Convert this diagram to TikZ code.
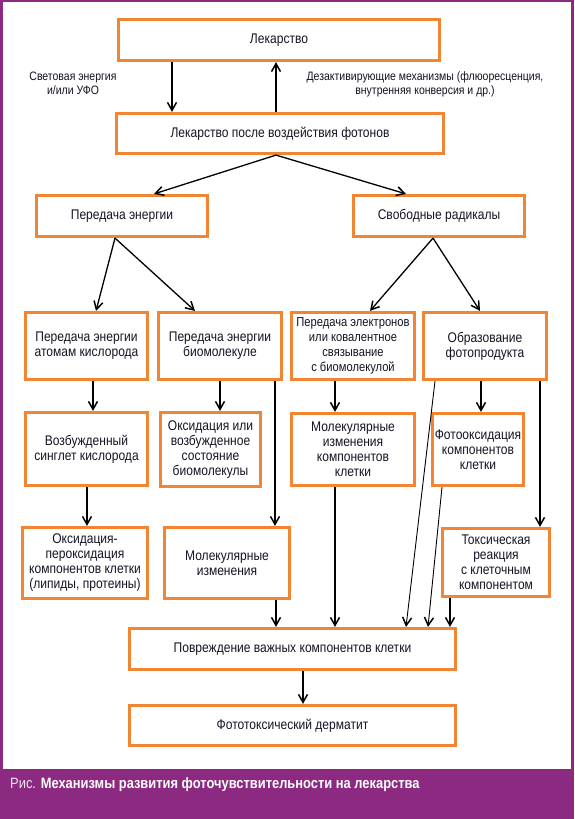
\documentclass[tikz,border=0pt]{standalone}
\usepackage{fontspec}
\setmainfont{Liberation Sans}[FakeStretch=0.86]
\usetikzlibrary{arrows.meta,calc}
\definecolor{obox}{RGB}{240,134,52}
\definecolor{purp}{RGB}{139,42,128}
\definecolor{ink}{RGB}{20,20,35}
\begin{document}
\begin{tikzpicture}[x=1pt,y=-1pt,
  box/.style={draw=obox,line width=3.2pt,fill=white,inner sep=0pt,align=center,text=ink,
    font=\fontsize{14}{15}\selectfont},
  lbl/.style={align=center,text=ink,inner sep=0pt,font=\fontsize{12.2}{14}\selectfont},
  tip/.style={-{Straight Barb[length=8pt,width=9pt,line width=1.5pt]}},
  arr/.style={tip,line width=1.8pt},
  darr/.style={tip,line width=1.3pt},
  tarr/.style={tip,line width=0.9pt}]
\useasboundingbox (0,0) rectangle (574,819);
\fill[purp] (0,0) rectangle (574,819);
\fill[white] (3,2) rectangle (571,769);
% boxes
\node[box,minimum width=321pt,minimum height=41pt] (L1) at (279,40) {Лекарство};
\node[box,minimum width=327pt,minimum height=40pt] (L2) at (280,133.5) {Лекарство после воздействия фотонов};
\node[box,minimum width=171pt,minimum height=41pt] (PE) at (122,216) {Передача энергии};
\node[box,minimum width=171pt,minimum height=41pt] (SR) at (439,216) {Свободные радикалы};
\node[box,minimum width=122pt,minimum height=67pt] (A) at (86.5,346) {Передача энергии\\атомам кислорода};
\node[box,minimum width=123pt,minimum height=67pt] (B) at (220,346) {Передача энергии\\биомолекуле};
\node[box,minimum width=123pt,minimum height=67pt,font=\fontsize{13}{15}\selectfont] (C) at (353,346) {Передача электронов\\или ковалентное\\связывание\\с биомолекулой};
\node[box,minimum width=123pt,minimum height=67pt] (D) at (485,346) {Образование\\фотопродукта};
\node[box,minimum width=122pt,minimum height=73pt] (A2) at (86.5,449) {Возбужденный\\синглет кислорода};
\node[box,minimum width=100pt,minimum height=74pt] (B2) at (210.5,449.5) {Оксидация или\\возбужденное\\состояние\\биомолекулы};
\node[box,minimum width=123pt,minimum height=72pt] (C2) at (353,449.5) {Молекулярные\\изменения\\компонентов\\клетки};
\node[box,minimum width=91pt,minimum height=72pt] (D2) at (478,449.5) {Фотооксидация\\компонентов\\клетки};
\node[box,minimum width=125pt,minimum height=71pt] (A3) at (85,563) {Оксидация-\\пероксидация\\компонентов клетки\\(липиды, протеины)};
\node[box,minimum width=125pt,minimum height=71pt] (B3) at (227,563) {Молекулярные\\изменения};
\node[box,minimum width=107pt,minimum height=68pt] (D3) at (496,562.5) {Токсическая\\реакция\\с клеточным\\компонентом};
\node[box,minimum width=326pt,minimum height=41pt] (P) at (292.5,649) {Повреждение важных компонентов клетки};
\node[box,minimum width=326pt,minimum height=40pt] (F) at (292.5,725.5) {Фототоксический дерматит};
% labels
\node[lbl] (t1) at (73,83) {Световая энергия\\и/или УФО};
\node[lbl] (t2) at (425,84) {Дезактивирующие механизмы (флюоресценция,\\внутренняя конверсия и др.)};
% arrows
\draw[arr] ([xshift=-107pt]L1.south) -- ([xshift=-107pt]L1.south |- L2.north);
\draw[arr] ([xshift=-4pt]L2.north) -- ([xshift=-4pt]L2.north |- L1.south);
\draw[darr] ([xshift=-4pt]L2.south) -- ([xshift=32pt]PE.north);
\draw[darr] ([xshift=-4pt]L2.south) -- ([xshift=-33pt]SR.north);
\draw[darr] ([xshift=-7pt]PE.south) -- ([xshift=9.5pt]A.north);
\draw[darr] ([xshift=-7pt]PE.south) -- ([xshift=-25pt]B.north);
\draw[darr] ([xshift=-6pt]SR.south) -- ([xshift=17pt]C.north);
\draw[darr] ([xshift=-6pt]SR.south) -- ([xshift=-5pt]D.north);
\draw[arr] ([xshift=6.5pt]A.south) -- ([xshift=6.5pt]A.south |- A2.north);
\draw[arr] (B.south) -- (B.south |- B2.north);
\draw[arr] ([xshift=0.5pt]A2.south) -- ([xshift=0.5pt]A2.south |- A3.north);
\draw[arr] ([xshift=55pt]B.south) -- ([xshift=55pt]B.south |- B3.north);
\draw[arr] ([xshift=-18pt]C.south) -- ([xshift=-18pt]C.south |- C2.north);
\draw[arr] ([xshift=-4pt]D.south) -- ([xshift=-4pt]D.south |- D2.north);
\draw[arr] ([xshift=55pt]D.south) -- ([xshift=55pt]D.south |- D3.north);
\draw[arr] ([xshift=49pt]B3.south) -- ([xshift=49pt]B3.south |- P.north);
\draw[arr] ([xshift=-18pt]C2.south) -- ([xshift=-18pt]C2.south |- P.north);
\draw[tarr] ([xshift=-50pt]D.south) -- ([xshift=113.5pt]P.north);
\draw[tarr] ([xshift=-36pt]D2.south) -- ([xshift=135.5pt]P.north);
\draw[arr] ([xshift=-46pt]D3.south) -- ([xshift=-46pt]D3.south |- P.north);
\draw[arr] ([xshift=10.5pt]P.south) -- ([xshift=10.5pt]P.south |- F.north);
% caption
\node[anchor=west,text=white,inner sep=0pt,font=\fontsize{15}{17}\selectfont] (cap) at (10,785) {{\color{white!88!purp}Рис.} \textbf{Механизмы развития фоточувствительности на лекарства}};
\end{tikzpicture}
\end{document}
